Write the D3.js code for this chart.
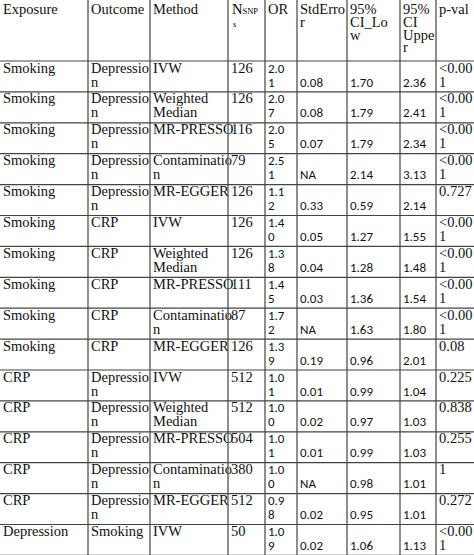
<!DOCTYPE html>
<html><head><meta charset="utf-8">
<script src="https://cdn.jsdelivr.net/npm/d3@7"></script>
<style>body{margin:0;background:#fff}</style>
</head><body>
<svg id="t" width="474" height="555"></svg>
<script>
// table data
var exposure = ["Smoking","Smoking","Smoking","Smoking","Smoking","Smoking","Smoking","Smoking","Smoking","Smoking",
  "CRP","CRP","CRP","CRP","CRP","Depression"];
var outcome = ["Depression","Depression","Depression","Depression","Depression","CRP","CRP","CRP","CRP","CRP",
  "Depression","Depression","Depression","Depression","Depression","Smoking"];
var method = ["IVW","Weighted Median","MR-PRESSO","Contamination","MR-EGGER","IVW","Weighted Median","MR-PRESSO","Contamination","MR-EGGER",
  "IVW","Weighted Median","MR-PRESSO","Contamination","MR-EGGER","IVW"];
var nsnps = ["126","126","116","79","126","126","126","111","87","126","512","512","504","380","512","50"];
var or = ["2.01","2.07","2.05","2.51","1.12","1.40","1.38","1.45","1.72","1.39","1.01","1.00","1.01","1.00","0.98","1.09"];
var stderr = ["0.08","0.08","0.07","NA","0.33","0.05","0.04","0.03","NA","0.19","0.01","0.02","0.01","NA","0.02","0.02"];
var ciLow = ["1.70","1.79","1.79","2.14","0.59","1.27","1.28","1.36","1.63","0.96","0.99","0.97","0.99","0.98","0.95","1.06"];
var ciUp = ["2.36","2.41","2.34","3.13","2.14","1.55","1.48","1.54","1.80","2.01","1.04","1.03","1.03","1.01","1.01","1.13"];
var pval = ["<0.001","<0.001","<0.001","<0.001","0.727","<0.001","<0.001","<0.001","<0.001","0.08","0.225","0.838","0.255","1","0.272","<0.001"];

var edges = [0, 88, 150, 228, 265, 297, 347, 400, 436, 480];
var serif = "'Liberation Serif','Times New Roman',serif", sans = "Carlito,'Liberation Sans',Arial,sans-serif";
// max characters per line in each column (words are wrapped, long words cut)
var cols = [
  {v: exposure, f: serif, n: 20}, {v: outcome, f: serif, n: 9}, {v: method, f: serif, n: 12}, {v: nsnps, f: serif, n: 5},
  {v: or, f: sans, n: 3}, {v: stderr, f: sans, n: 8, bottom: true}, {v: ciLow, f: sans, n: 8, bottom: true},
  {v: ciUp, f: sans, n: 8, bottom: true}, {v: pval, f: serif, n: 5}
];
var headers = [["Exposure"],["Outcome"],["Method"],null,["OR"],["StdErro","r"],["95%","CI_Lo","w"],["95%","CI","Uppe","r"],["p-val"]];

var headH = 61, rh = 30.9, lh = 14;
var y = d3.scaleLinear().domain([0, exposure.length]).range([headH, headH + rh * exposure.length]);
var svg = d3.select("#t");
var g = svg.append("g");

function wrap(str, n) {
  var lines = [], cur = "";
  str.split(" ").forEach(function(word){
    var cand = cur ? cur + " " + word : word;
    if (cand.length <= n) { cur = cand; return; }
    if (cur) { lines.push(cur); cur = ""; }
    while (word.length > n) { lines.push(word.slice(0, n)); word = word.slice(n); }
    cur = word;
  });
  if (cur) lines.push(cur);
  return lines;
}

// header
headers.forEach(function(h, c){
  if (!h) return;
  h.forEach(function(s, i){
    g.append("text").attr("x", edges[c] + 3).attr("y", 14 + i * 12.8)
      .style("font-family", serif).style("font-size", "14.5px").attr("fill", "#111").text(s);
  });
});
var ns = g.append("text").attr("x", edges[3] + 4).attr("y", 14).style("font-family", serif).style("font-size", "14.5px");
ns.append("tspan").text("N");
ns.append("tspan").style("font-size", "8.5px").text("SNP");
g.append("text").attr("x", edges[3] + 5).attr("y", 27).style("font-family", serif).style("font-size", "8.5px").text("s");

// body
cols.forEach(function(col, c){
  col.v.forEach(function(val, r){
    var lines = wrap(val, col.n);
    lines.forEach(function(s, i){
      var yy = col.bottom ? y(r) + 25.5 : y(r) + 11.5 + i * lh;
      g.append("text").attr("x", edges[c] + 3).attr("y", yy)
        .style("font-family", col.f).style("font-size", col.f === sans ? "13px" : "14.5px")
        .attr("fill", "#111").text(s);
    });
  });
});

// grid
var lc = "#444";
d3.range(exposure.length + 1).forEach(function(i){
  g.append("line").attr("x1", 0).attr("x2", 474).attr("y1", y(i)).attr("y2", y(i))
    .attr("stroke", lc).attr("stroke-width", 1.2);
});
edges.slice(1, -1).forEach(function(x){
  g.append("line").attr("x1", x).attr("x2", x).attr("y1", 0).attr("y2", 555)
    .attr("stroke", lc).attr("stroke-width", 1.2);
});
</script>
</body></html>
